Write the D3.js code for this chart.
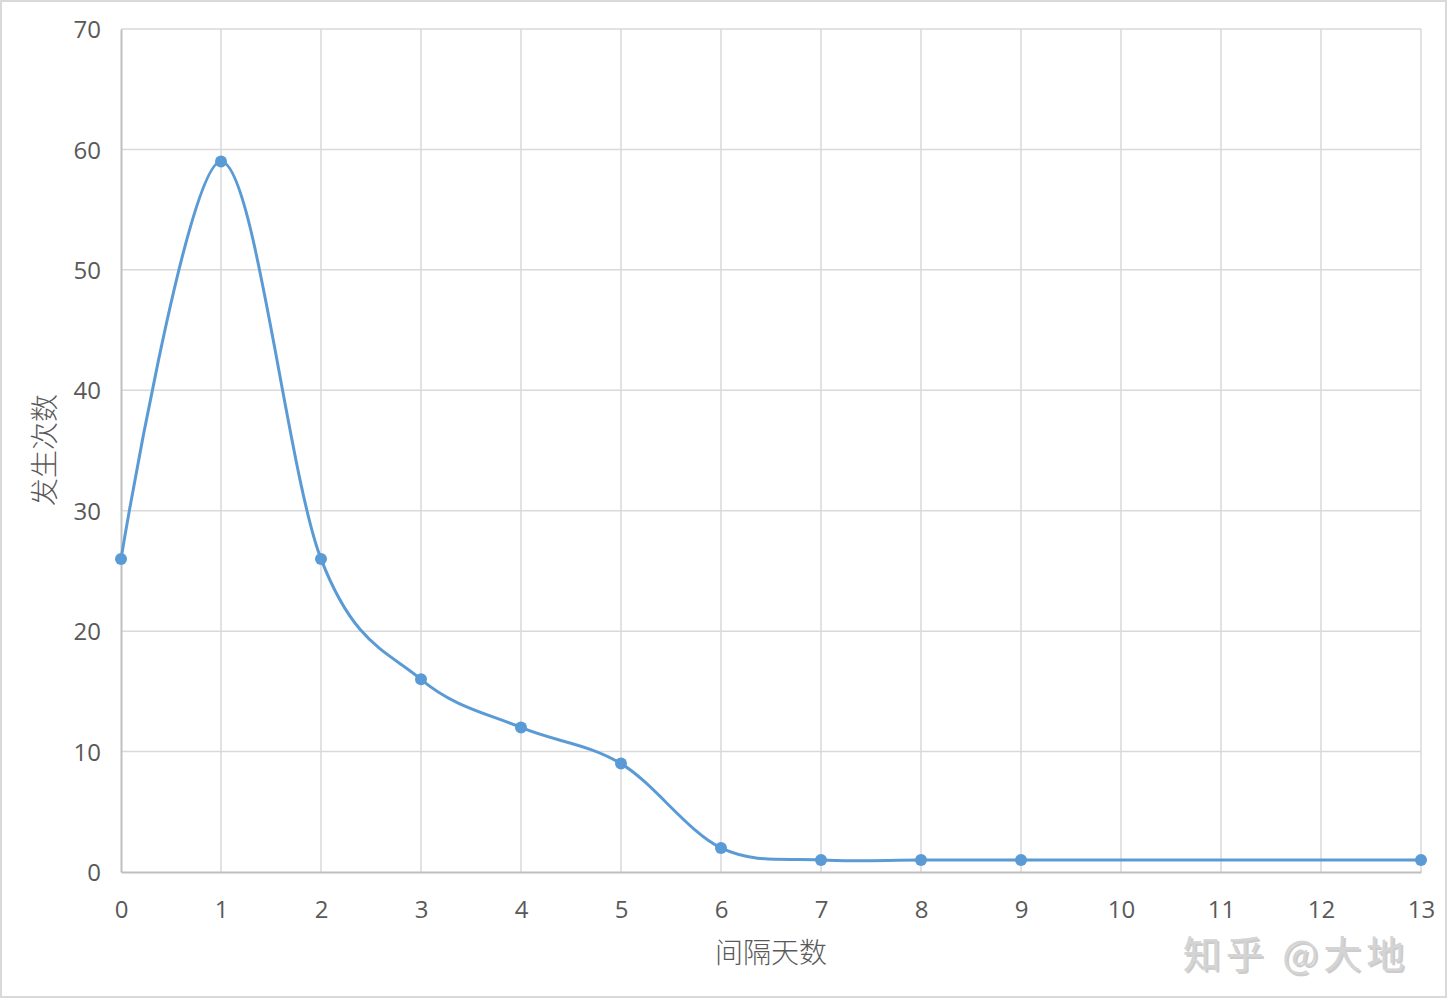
<!DOCTYPE html>
<html><head><meta charset="utf-8">
<script src="https://cdn.jsdelivr.net/npm/d3@7"></script>
<style>
html,body{margin:0;padding:0;background:#fff;}
svg{display:block;}
</style>
</head><body>
<svg id="chart" width="1448" height="1000"></svg>
<script>
// Data
const days = [0, 1, 2, 3, 4, 5, 6, 7, 8, 9, 13];
const counts = [26, 59, 26, 16, 12, 9, 2, 1, 1, 1, 1];
const xTicks = [0, 1, 2, 3, 4, 5, 6, 7, 8, 9, 10, 11, 12, 13];
const yTicks = [0, 10, 20, 30, 40, 50, 60, 70];
const xTitle = "间隔天数";
const yTitle = "发生次数";
const watermark = "知乎 @大地";

const svg = d3.select("#chart");
const m = {left: 121, right: 1421, top: 29, bottom: 872};

// frame
svg.append("rect").attr("x", 1).attr("y", 1).attr("width", 1445).attr("height", 996)
  .attr("fill", "#fff").attr("stroke", "#d9d9d9").attr("stroke-width", 2);

const x = d3.scaleLinear().domain([0, 13]).range([m.left, m.right]);
const y = d3.scaleLinear().domain([0, 70]).range([m.bottom, m.top]);

// gridlines
const g = svg.append("g");
g.selectAll("line.h").data(yTicks.filter(d => d > 0)).join("line")
  .attr("x1", m.left).attr("x2", m.right)
  .attr("y1", d => y(d)).attr("y2", d => y(d))
  .attr("stroke", "#d9d9d9").attr("stroke-width", 1.5);
g.selectAll("line.v").data(xTicks.filter(d => d > 0)).join("line")
  .attr("x1", d => x(d)).attr("x2", d => x(d))
  .attr("y1", m.top).attr("y2", m.bottom)
  .attr("stroke", "#d9d9d9").attr("stroke-width", 1.5);

// axes
const xAxis = d3.axisBottom(x).tickValues(xTicks).tickSize(0).tickPadding(0).tickFormat(d3.format("d"));
const yAxis = d3.axisLeft(y).tickValues(yTicks).tickSize(0).tickPadding(0);

const gx = svg.append("g").attr("transform", `translate(0,${m.bottom})`).call(xAxis);
gx.select(".domain").attr("stroke", "#bfbfbf").attr("stroke-width", 2);
gx.selectAll("text").attr("y", 46).attr("dy", null)
  .attr("font-family", "'Open Sans', sans-serif").attr("font-size", 24).attr("fill", "#595959");

const gy = svg.append("g").attr("transform", `translate(${m.left},0)`).call(yAxis);
gy.select(".domain").attr("stroke", "#bfbfbf").attr("stroke-width", 2);
gy.selectAll("text").attr("x", -20).attr("dy", "0.36em")
  .attr("font-family", "'Open Sans', sans-serif").attr("font-size", 24).attr("fill", "#595959");

// line
const pts = days.map((d, i) => [d, counts[i]]);
const line = d3.line().x(d => x(d[0])).y(d => y(d[1])).curve(d3.curveCardinal.tension(0));
svg.append("path").datum(pts).attr("d", line)
  .attr("fill", "none").attr("stroke", "#5b9bd5").attr("stroke-width", 3)
  .attr("stroke-linejoin", "round").attr("stroke-linecap", "round");

svg.selectAll("circle.pt").data(pts).join("circle")
  .attr("cx", d => x(d[0])).attr("cy", d => y(d[1])).attr("r", 6)
  .attr("fill", "#5b9bd5");

// axis titles
svg.append("text").attr("x", 771).attr("y", 963).attr("text-anchor", "middle")
  .attr("font-family", "'Noto Sans CJK SC', sans-serif").attr("font-weight", 300)
  .attr("font-size", 28).attr("fill", "#595959").text(xTitle);
svg.append("text").attr("transform", "translate(55,450) rotate(-90)").attr("text-anchor", "middle")
  .attr("font-family", "'Noto Sans CJK SC', sans-serif").attr("font-weight", 300)
  .attr("font-size", 28).attr("fill", "#595959").text(yTitle);

// watermark
svg.append("text").attr("x", 1298).attr("y", 970).attr("text-anchor", "middle")
  .attr("font-family", "'Noto Sans CJK SC', sans-serif").attr("font-size", 38)
  .attr("letter-spacing", 5)
  .attr("fill", "#9a9a9a").attr("opacity", 0.5).text(watermark);
svg.append("text").attr("x", 1296).attr("y", 968).attr("text-anchor", "middle")
  .attr("font-family", "'Noto Sans CJK SC', sans-serif").attr("font-size", 38)
  .attr("letter-spacing", 5)
  .attr("fill", "#d4d4d4").text(watermark);
</script>
</body></html>
